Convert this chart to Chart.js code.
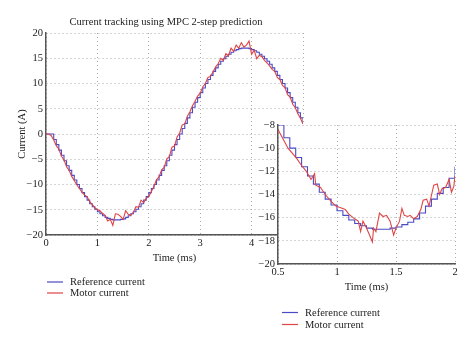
<!DOCTYPE html>
<html>
<head>
<meta charset="utf-8">
<script src="https://cdn.jsdelivr.net/npm/chart.js@4.4.1/dist/chart.umd.min.js"></script>
<style>
  html, body { margin: 0; padding: 0; background: #fff; }
  #wrap { position: relative; width: 474px; height: 348px; overflow: hidden; }
  #main-box { position: absolute; left: 0; top: 0; width: 474px; height: 348px; }
  #zoom-box { position: absolute; left: 230px; top: 100px; width: 244px; height: 248px; }
</style>
</head>
<body>
<div id="wrap">
  <div id="main-box"><canvas id="main-chart"></canvas></div>
  <div id="zoom-box"><canvas id="zoom-chart"></canvas></div>
</div>
<script>
// full run, 0..5 ms, one sample every 0.05 ms
const fullTime = [0, 0.05, 0.1, 0.15, 0.2, 0.25, 0.3, 0.35, 0.4, 0.45, 0.5, 0.55, 0.6, 0.65, 0.7, 0.75, 0.8, 0.85, 0.9, 0.95,
  1.0, 1.05, 1.1, 1.15, 1.2, 1.25, 1.3, 1.35, 1.4, 1.45, 1.5, 1.55, 1.6, 1.65, 1.7, 1.75, 1.8, 1.85, 1.9, 1.95,
  2.0, 2.05, 2.1, 2.15, 2.2, 2.25, 2.3, 2.35, 2.4, 2.45, 2.5, 2.55, 2.6, 2.65, 2.7, 2.75, 2.8, 2.85, 2.9, 2.95,
  3.0, 3.05, 3.1, 3.15, 3.2, 3.25, 3.3, 3.35, 3.4, 3.45, 3.5, 3.55, 3.6, 3.65, 3.7, 3.75, 3.8, 3.85, 3.9, 3.95,
  4.0, 4.05, 4.1, 4.15, 4.2, 4.25, 4.3, 4.35, 4.4, 4.45, 4.5, 4.55, 4.6, 4.65, 4.7, 4.75, 4.8, 4.85, 4.9, 4.95, 5.0]
const refCurrent = [0, 0, 0, -1.1, -2.1, -3.2, -4.2, -5.3, -6.3, -7.2, -8.2, -9.1, -10.0, -10.8, -11.6, -12.4, -13.1, -13.8, -14.4, -14.9,
  -15.4, -15.8, -16.2, -16.5, -16.7, -16.9, -17.0, -17.0, -17.0, -16.9, -16.8, -16.5, -16.2, -15.8, -15.4, -14.9, -14.4, -13.8, -13.1, -12.4,
  -11.6, -10.8, -10.0, -9.1, -8.2, -7.2, -6.3, -5.3, -4.2, -3.2, -2.1, -1.1, 0, 1.1, 2.1, 3.2, 4.2, 5.3, 6.3, 7.2,
  8.2, 9.1, 10.0, 10.8, 11.6, 12.4, 13.1, 13.8, 14.4, 14.9, 15.4, 15.8, 16.2, 16.5, 16.7, 16.9, 17.0, 17.0, 17.0, 16.9,
  16.7, 16.5, 16.2, 15.8, 15.4, 14.9, 14.4, 13.8, 13.1, 12.4, 11.6, 10.8, 10.0, 9.1, 8.2, 7.2, 6.3, 5.3, 4.2, 3.2, 2.1]
const motorCurrent = [0, 0, -0.3, -1.2, -2.3, -3.0, -4.4, -5.1, -6.5, -7.2, -8.4, -9.2, -10.1, -10.8, -11.5, -12.1, -12.4, -13.4, -14.0, -14.6,
  -15.0, -15.2, -15.7, -16.1, -17.2, -16.9, -18.1, -15.8, -15.9, -16.3, -16.9, -15.2, -15.9, -16.1, -15.5, -14.4, -14.5, -13.1, -13.6, -12.7,
  -12.4, -11.4, -10.4, -9.0, -8.5, -7.1, -6.6, -4.9, -4.5, -2.6, -2.4, -0.6, 0.2, 1.8, 2.0, 3.5, 4.4, 5.6, 6.5, 7.5,
  8.1, 9.3, 10.0, 11.2, 11.4, 12.3, 13.3, 13.9, 15.0, 14.6, 15.9, 15.5, 17.0, 16.4, 17.6, 17.0, 18.1, 17.2, 17.6, 18.4,
  15.8, 16.6, 14.9, 15.6, 15.3, 14.6, 14.1, 13.5, 12.8, 12.4, 11.2, 10.8, 9.6, 9.2, 7.8, 7.3, 5.9, 5.2, 4.0, 3.1, 2.0]

// close-up, 0.5..2 ms
const zoomRefTime = [0.5, 0.55, 0.6, 0.65, 0.7, 0.75, 0.8, 0.85, 0.9, 0.95, 1.0, 1.05, 1.1, 1.15, 1.2, 1.25,
  1.3, 1.35, 1.4, 1.45, 1.5, 1.55, 1.6, 1.65, 1.7, 1.75, 1.8, 1.85, 1.9, 1.95, 2.0]
const zoomRefCurrent = [-8.0, -9.1, -10.0, -10.8, -11.6, -12.4, -13.1, -13.8, -14.4, -14.9, -15.4, -15.8, -16.2, -16.5, -16.7, -16.9,
  -17.0, -17.0, -17.0, -16.9, -16.8, -16.6, -16.4, -16.1, -15.6, -15.0, -14.4, -13.9, -13.4, -12.6, -11.6]

const zoomMotorTime = [0.5, 0.585, 0.66, 0.7, 0.74, 0.78, 0.81, 0.82, 0.86, 0.9, 0.95, 0.99, 1.02, 1.07, 1.1, 1.15, 1.18,
  1.2, 1.22, 1.25, 1.28, 1.3, 1.31, 1.33, 1.36, 1.39, 1.42, 1.45, 1.48, 1.5, 1.53, 1.55, 1.57, 1.6, 1.62, 1.65,
  1.68, 1.71, 1.73, 1.76, 1.78, 1.82, 1.85, 1.87, 1.89, 1.92, 1.95, 1.97, 1.99, 2.0]
const zoomMotorCurrent = [-8.4, -10.0, -10.9, -11.5, -12.0, -12.7, -12.2, -13.2, -13.4, -14.0, -14.6, -15.0, -15.1, -15.3, -15.7, -16.1, -16.3,
  -17.2, -16.3, -16.9, -17.6, -18.1, -16.9, -17.2, -15.6, -15.9, -15.8, -16.3, -17.5, -16.9, -16.3, -15.2, -15.8, -15.9, -15.8, -16.1,
  -15.9, -15.3, -14.5, -14.4, -15.0, -13.2, -13.1, -14.0, -13.5, -13.4, -12.7, -13.8, -13.3, -12.4]

const REF_COLOR = "#4a4ac6"
const MOTOR_COLOR = "#e04444"
const INK = "#1c1c1c"
const SERIF = "'Liberation Serif', 'DejaVu Serif', serif"
const tickFont = { family: SERIF, size: 10.5, lineHeight: 1.0 }
const labelFont = { family: SERIF, size: 10.5 }

const toPoints = (xs, ys) => xs.map((x, i) => ({ x, y: ys[i] }))
const signed = (v) => (v < 0 ? "\u2212" + -v : String(v))

// white backing behind the plot area (the close-up sits on top of the full view)
const plotBacking = {
  id: "plotBacking",
  beforeDraw(chart, args, opts) {
    if (!opts.color) return
    const { ctx, chartArea: a } = chart
    ctx.save()
    ctx.fillStyle = opts.color
    ctx.fillRect(a.left, a.top, a.right - a.left, a.bottom - a.top)
    ctx.restore()
  },
}

// free-standing title and a stacked line legend
const captions = {
  id: "captions",
  afterDraw(chart, args, opts) {
    const { ctx } = chart
    ctx.save()
    ctx.font = "10.5px " + SERIF
    ctx.fillStyle = INK
    ctx.textBaseline = "middle"
    if (opts.title) {
      ctx.textAlign = "center"
      ctx.fillText(opts.title, opts.titleX, opts.titleY)
    }
    ctx.textAlign = "left"
    chart.data.datasets.forEach((ds, i) => {
      const y = opts.keyY + i * opts.keyGap
      ctx.strokeStyle = ds.borderColor
      ctx.lineWidth = 1.2
      ctx.beginPath()
      ctx.moveTo(opts.keyX, y)
      ctx.lineTo(opts.keyX + 16, y)
      ctx.stroke()
      ctx.fillStyle = INK
      ctx.fillText(ds.label, opts.keyX + 23, y + 0.5)
    })
    ctx.restore()
  },
}

function axis(min, max, step, title, extra) {
  return Object.assign({
    type: "linear",
    min,
    max,
    ticks: { stepSize: step, font: tickFont, color: INK, padding: 3, callback: signed },
    grid: { color: "#aaaaaa", lineWidth: 1, drawTicks: false },
    border: { display: true, color: "#555", width: 1.5, dash: [1, 3] },
    title: { display: !!title, text: title, font: labelFont, color: INK, padding: { top: 0, bottom: 0 } },
  }, extra)
}

function datasets(rt, rc, mt, mc) {
  return [
    {
      label: "Reference current",
      data: toPoints(rt, rc),
      borderColor: REF_COLOR,
      borderWidth: 1.1,
      pointRadius: 0,
      stepped: true,
      order: 1,
    },
    {
      label: "Motor current",
      data: toPoints(mt, mc),
      borderColor: MOTOR_COLOR,
      borderWidth: 1.1,
      pointRadius: 0,
      order: 0,
    },
  ]
}

const mainY = axis(-20, 20, 5, "Current (A)", {
  afterFit(scale) { scale.width = 46 },
})
// y title sits left of the tick labels
mainY.title.padding = { top: 15.5, bottom: 0 }

new Chart(document.getElementById("main-chart"), {
  type: "line",
  data: { datasets: datasets(fullTime, refCurrent, fullTime, motorCurrent) },
  plugins: [captions],
  options: {
    responsive: true,
    maintainAspectRatio: false,
    animation: false,
    layout: { padding: { left: 0, top: 33, right: 171, bottom: 83.9 } },
    scales: {
      x: axis(0, 5, 1, "Time (ms)"),
      y: mainY,
    },
    plugins: {
      legend: { display: false },
      tooltip: { enabled: false },
      captions: {
        title: "Current tracking using MPC 2-step prediction",
        titleX: 166, titleY: 22,
        keyX: 47, keyY: 282, keyGap: 11,
      },
    },
  },
})

new Chart(document.getElementById("zoom-chart"), {
  type: "line",
  data: { datasets: datasets(zoomRefTime, zoomRefCurrent, zoomMotorTime, zoomMotorCurrent) },
  plugins: [plotBacking, captions],
  options: {
    responsive: true,
    maintainAspectRatio: false,
    animation: false,
    layout: { padding: { left: 0, top: 25, right: 19, bottom: 54.9 } },
    scales: {
      x: axis(0.5, 2, 0.5, "Time (ms)"),
      y: axis(-20, -8, 2, "", {
        afterFit(scale) { scale.width = 48 },
      }),
    },
    plugins: {
      legend: { display: false },
      tooltip: { enabled: false },
      plotBacking: { color: "#fff" },
      captions: { keyX: 52, keyY: 212.5, keyGap: 12 },
    },
  },
})
</script>
</body>
</html>
